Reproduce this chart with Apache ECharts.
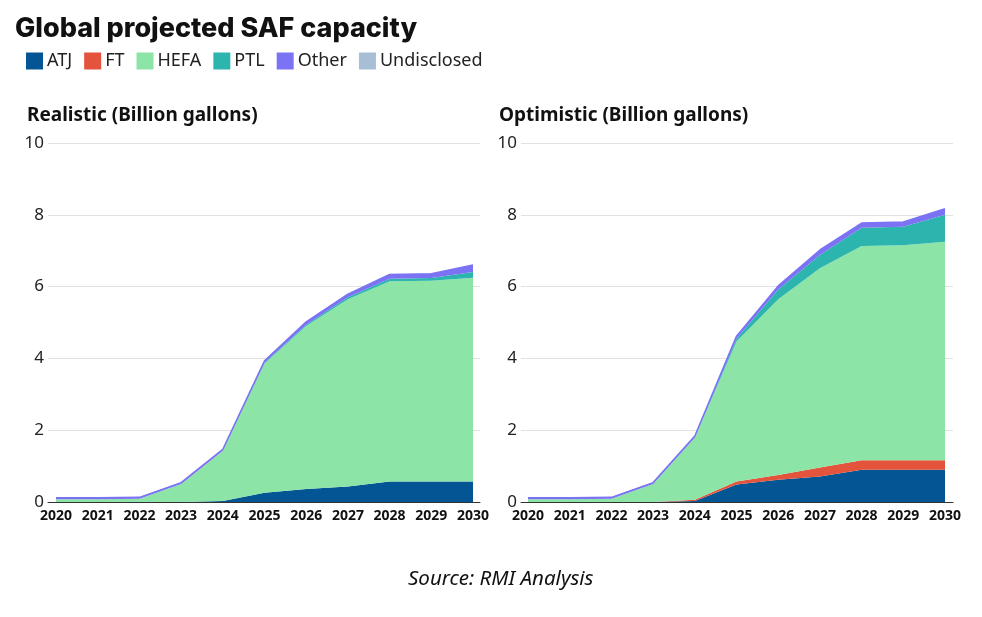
<!DOCTYPE html>
<html>
<head>
<meta charset="utf-8">
<title>Global projected SAF capacity</title>
<script src="https://cdn.jsdelivr.net/npm/echarts@6/dist/echarts.min.js"></script>
<style>
  html, body { margin: 0; padding: 0; background: #fff; }
  #chart { width: 982px; height: 617px; }
</style>
</head>
<body>
<div id="chart"></div>
<script>
// years on the x axis
var years = ['2020', '2021', '2022', '2023', '2024', '2025', '2026', '2027', '2028', '2029', '2030'];

// Realistic scenario (billion gallons)
var realATJ   = [0, 0, 0, 0, 0.03, 0.26, 0.36, 0.43, 0.57, 0.57, 0.57];
var realFT    = [0, 0, 0, 0, 0, 0, 0, 0, 0, 0, 0];
var realHEFA  = [0.08, 0.08, 0.09, 0.50, 1.40, 3.60, 4.54, 5.22, 5.58, 5.59, 5.68];
var realPTL   = [0, 0, 0, 0, 0, 0.02, 0.04, 0.05, 0.07, 0.08, 0.16];
var realOther = [0.04, 0.04, 0.04, 0.04, 0.04, 0.05, 0.08, 0.09, 0.12, 0.12, 0.19];
var realUndis = [0, 0, 0, 0, 0, 0, 0, 0, 0, 0, 0];

// Optimistic scenario (billion gallons)
var optATJ   = [0, 0, 0, 0, 0.03, 0.49, 0.62, 0.71, 0.90, 0.90, 0.90];
var optFT    = [0, 0, 0, 0, 0.03, 0.08, 0.13, 0.25, 0.26, 0.26, 0.26];
var optHEFA  = [0.08, 0.08, 0.09, 0.50, 1.74, 3.90, 4.90, 5.55, 5.97, 5.99, 6.09];
var optPTL   = [0, 0, 0, 0, 0, 0.08, 0.27, 0.37, 0.51, 0.52, 0.75];
var optOther = [0.04, 0.04, 0.04, 0.04, 0.04, 0.07, 0.10, 0.14, 0.13, 0.13, 0.17];
var optUndis = [0, 0, 0, 0, 0, 0, 0, 0, 0, 0, 0];

var names  = ['ATJ', 'FT', 'HEFA', 'PTL', 'Other', 'Undisclosed'];
var colors = ['#045594', '#e4533b', '#8ce4a7', '#2bb5ae', '#7b72f4', '#a8bed4'];

var font = 'Noto Sans';

function makeSeries(sets, idx, stackName) {
    return sets.map(function (vals, k) {
        return {
            name: names[k],
            type: 'line',
            xAxisIndex: idx,
            yAxisIndex: idx,
            stack: stackName,
            symbol: 'none',
            lineStyle: { width: names[k] === 'Other' ? 1.5 : 0, color: colors[k] },
            areaStyle: { color: colors[k], opacity: 1 },
            itemStyle: { color: colors[k] },
            emphasis: { disabled: true },
            data: vals
        };
    });
}

// data grids (0,1): category axis, only year labels shown
function dataX(idx) {
    return {
        type: 'category',
        gridIndex: idx,
        data: years,
        boundaryGap: false,
        axisLine: { show: false },
        axisTick: { show: false },
        splitLine: { show: false },
        axisLabel: {
            interval: 0,
            color: '#111',
            fontFamily: font,
            fontWeight: 'bold',
            fontSize: 14,
            margin: 7
        }
    };
}
function dataY(idx) {
    return {
        type: 'value', gridIndex: idx, min: 0, max: 10, interval: 2,
        show: false, splitLine: { show: false }
    };
}
// frame grids (2,3): a bit wider, carry the gridlines, base line and y labels
function frameX(idx) {
    return {
        type: 'value', gridIndex: idx, min: 0, max: 1,
        axisLine: { show: true, lineStyle: { color: '#333', width: 1 } },
        axisTick: { show: false },
        axisLabel: { show: false },
        splitLine: { show: false }
    };
}
function frameY(idx) {
    return {
        type: 'value',
        gridIndex: idx,
        min: 0,
        max: 10,
        interval: 2,
        axisLine: { show: false },
        axisTick: { show: false },
        splitLine: { lineStyle: { color: '#e2e2e2', width: 1 } },
        axisLabel: {
            color: '#222',
            fontFamily: font,
            fontSize: 17,
            margin: 4
        }
    };
}

var chart = echarts.init(document.getElementById('chart'), null, { renderer: 'canvas' });

var option = {
    backgroundColor: '#fff',
    animation: false,
    title: [
        {
            text: 'Global projected SAF capacity',
            left: 10, top: 10,
            textStyle: { fontFamily: 'Inter', fontWeight: 800, fontSize: 27, color: '#111' }
        },
        {
            text: 'Realistic (Billion gallons)',
            left: 22, top: 101,
            textStyle: { fontFamily: font, fontWeight: 'bold', fontSize: 19, color: '#111' }
        },
        {
            text: 'Optimistic (Billion gallons)',
            left: 494, top: 101,
            textStyle: { fontFamily: font, fontWeight: 'bold', fontSize: 19, color: '#111' }
        },
        {
            text: 'Source: RMI Analysis',
            left: 403, top: 564,
            textStyle: { fontFamily: font, fontStyle: 'italic', fontWeight: 'normal', fontSize: 20.5, color: '#111' }
        }
    ],
    legend: {
        data: names,
        left: 21, top: 47,
        icon: 'rect',
        itemWidth: 17, itemHeight: 17,
        itemGap: 12,
        textStyle: { fontFamily: font, fontSize: 18, color: '#222', padding: [0, 0, 0, -1] }
    },
    grid: [
        { left: 56, top: 143, width: 417, height: 359 },
        { left: 528, top: 143, width: 417, height: 359 },
        { left: 48, top: 143, width: 432, height: 359 },
        { left: 521, top: 143, width: 432, height: 359 }
    ],
    xAxis: [dataX(0), dataX(1), frameX(2), frameX(3)],
    yAxis: [dataY(0), dataY(1), frameY(2), frameY(3)],
    series: makeSeries([realATJ, realFT, realHEFA, realPTL, realOther, realUndis], 0, 'real')
        .concat(makeSeries([optATJ, optFT, optHEFA, optPTL, optOther, optUndis], 1, 'opt'))
};

chart.setOption(option);
</script>
</body>
</html>
